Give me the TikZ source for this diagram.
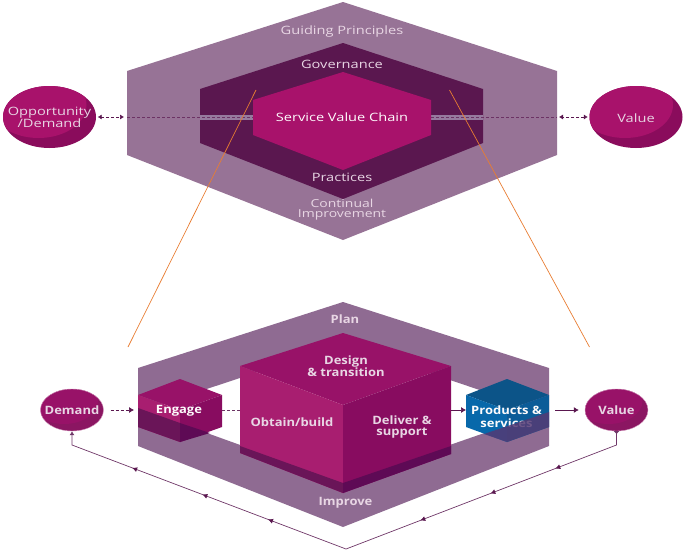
\documentclass[tikz,border=0pt]{standalone}
\usepackage{fontspec}
\setmainfont{Open Sans}
\newfontfamily\topfont[FakeStretch=1.27]{Open Sans}
\newfontfamily\lowfont[FakeStretch=1.13]{Open Sans}
\usepackage{xcolor}
\definecolor{White}{RGB}{255,255,255}
\definecolor{Ring}{RGB}{151,115,150}
\definecolor{RingLow}{RGB}{143,107,146}
\definecolor{Plum}{RGB}{90,23,79}
\definecolor{Magenta}{RGB}{168,18,107}
\definecolor{MagentaDark}{RGB}{138,12,92}
\definecolor{Strip}{RGB}{150,122,158}
\definecolor{TopFace}{RGB}{152,18,104}
\definecolor{LeftFace}{RGB}{168,30,112}
\definecolor{RightFace}{RGB}{136,12,96}
\definecolor{StripLeft}{RGB}{106,21,88}
\definecolor{StripRight}{RGB}{94,10,85}
\definecolor{BlueTop}{RGB}{12,84,136}
\definecolor{BlueLeft}{RGB}{8,104,170}
\definecolor{BlueRight}{RGB}{11,92,152}
\definecolor{Overlay}{RGB}{84,58,116}
\definecolor{Orange}{RGB}{232,125,50}
\definecolor{Pale}{RGB}{232,214,228}
\usepackage{tikz}
\usetikzlibrary{arrows.meta, shapes.geometric, decorations.markings}
\tikzset{
	lab/.style={align=center, color=Pale, inner sep=0pt},
	labtop/.style={lab, font=\topfont\fontsize{11.5}{12}\selectfont},
	lablow/.style={lab, font=\lowfont\fontsize{11.5}{10.5}\selectfont\bfseries},
	bigcircle/.style={ellipse, fill=MagentaDark, inner sep=0pt, minimum width=93pt, minimum height=62pt,
		path picture={\fill[Magenta] ([shift={(-11,-12)}]path picture bounding box.center) ellipse (48 and 33);}},
	smallcircle/.style={ellipse, fill=MagentaDark!90!Ring, draw=Pale!70!Magenta, line width=0.4pt, inner sep=0pt, minimum width=63pt, minimum height=42pt,
		path picture={\fill[TopFace] ([shift={(-8,-9)}]path picture bounding box.center) ellipse (34 and 23);}},
	dashlink/.style={draw=Plum, line width=0.5pt, densely dashed, {Latex[length=4pt,width=5pt]}-{Latex[length=4pt,width=5pt]}},
	flowlink/.style={draw=Plum, line width=0.7pt, densely dashed, -{Latex[length=5pt,width=6pt]}},
	backlink/.style={draw=Plum!65!Ring, line width=0.7pt, postaction={decorate}, decoration={markings,
		mark=at position 0.13 with {\arrow[Plum]{Latex[length=5pt,width=5pt]}},
		mark=at position 0.244 with {\arrow[Plum]{Latex[length=5pt,width=5pt]}},
		mark=at position 0.367 with {\arrow[Plum]{Latex[length=5pt,width=5pt]}},
		mark=at position 0.634 with {\arrow[Plum]{Latex[length=5pt,width=5pt]}},
		mark=at position 0.749 with {\arrow[Plum]{Latex[length=5pt,width=5pt]}},
		mark=at position 0.872 with {\arrow[Plum]{Latex[length=5pt,width=5pt]}}}},
	zoomline/.style={draw=Orange, line width=0.7pt}
}
\begin{document}
\begin{tikzpicture}[x=1pt, y=-1pt]
		\useasboundingbox (0,0) rectangle (685,554);
		
		% Upper hexagons
		\fill[Ring] (343,2) -- (557,71) -- (557,155) -- (343,240) -- (127,155) -- (127,71) -- cycle;
		\fill[Plum] (343,43) -- (483,89) -- (483,143) -- (343,199) -- (200,143) -- (200,89) -- cycle;
		\fill[Strip] (200,115) rectangle (483,120);
		\fill[Magenta] (343,72) -- (431,100) -- (431,135) -- (343,170) -- (253,135) -- (253,100) -- cycle;
		\draw[Plum!70!Ring, line width=0.5pt, densely dashed] (127,117) -- (253,117);
		\draw[Plum!70!Ring, line width=0.5pt, densely dashed] (431,117) -- (557,117);
		
		% Upper names
		\node[labtop] (guiding) at (342,32) {Guiding Principles};
		\node[labtop] (governance) at (342,64) {Governance};
		\node[labtop, color=White!90!Pale] (chain) at (342,117) {Service Value Chain};
		\node[labtop] (practices) at (342,177) {Practices};
		\node[labtop, font=\topfont\fontsize{11}{10}\selectfont] (continual) at (342,209.5) {Continual\\Improvement};
		
		% Upper circles
		\node[bigcircle] (opportunity) at (49.5,117) {};
		\node[bigcircle] (valuetop) at (636,117) {};
		\node[labtop] (opportunitytxt) at (49.5,117) {Opportunity\\/Demand};
		\node[labtop] (valuetoptxt) at (636,118) {Value};
		\coordinate (hexleft) at (127,117);
		\coordinate (hexright) at (557,117);
		\draw[dashlink, shorten <=1.5pt, shorten >=3pt] (opportunity) -- (hexleft);
		\draw[dashlink, shorten <=1.5pt, shorten >=2pt] (valuetop) -- (hexright);
		
		% Lower ring
		\fill[RingLow, even odd rule] (343,302) -- (549,368) -- (549,446) -- (343,527) -- (138,446) -- (138,368) -- cycle
			(143,410) -- (343,344) -- (545,412) -- (343,482) -- cycle;
		
		% Cube
		\fill[TopFace] (343,333) -- (451,366) -- (343,405) -- (240,366) -- cycle;
		\fill[LeftFace] (240,366) -- (343,405) -- (343,493) -- (240,453) -- cycle;
		\fill[RightFace] (451,366) -- (343,405) -- (343,493) -- (451,454) -- cycle;
		\fill[StripLeft] (240,446) -- (343,483) -- (343,493) -- (240,453) -- cycle;
		\fill[StripRight] (451,446) -- (343,483) -- (343,493) -- (451,454) -- cycle;
		
		% Engage block
		\fill[TopFace] (138,395) -- (180,379) -- (222,395) -- (180,410) -- cycle;
		\fill[LeftFace] (138,395) -- (180,410) -- (180,442) -- (138,427) -- cycle;
		\fill[RightFace] (222,395) -- (180,410) -- (180,442) -- (222,427) -- cycle;
		\fill[StripLeft] (138,408) -- (180,423) -- (180,442) -- (138,427) -- cycle;
		\fill[StripRight] (180,423) -- (210,433) -- (180,442) -- cycle;
		\node[lablow, color=White!90!Pale] (engage) at (179,410.5) {Engage};
		
		% Products block
		\fill[BlueTop] (466,395) -- (507,379) -- (549,395) -- (507,410) -- cycle;
		\fill[BlueLeft] (466,395) -- (507,410) -- (507,442) -- (466,427) -- cycle;
		\fill[BlueRight] (549,395) -- (507,410) -- (507,442) -- (549,427) -- cycle;
		\node[lablow, color=White!90!Pale, font=\lowfont\fontsize{11.5}{13}\selectfont\bfseries] (products) at (506.5,416.5) {Products \&\\services};
		\fill[Overlay, opacity=0.85] (484,434) -- (549,412) -- (549,427) -- (507,442) -- cycle;
		
		% Lower names
		\node[lablow] (plan) at (345,319) {Plan};
		\node[lablow] (improve) at (345.5,503) {Improve};
		\node[lablow] (design) at (346,366) {Design\\\& transition};
		\node[lablow] (obtain) at (292,422) {Obtain/build};
		\node[lablow] (deliver) at (402,427) {Deliver \&\\support};
		
		% Lower circles
		\node[smallcircle] (demand) at (72,410) {};
		\node[smallcircle] (valuelow) at (616.5,410) {};
		\node[lablow] (demandtxt) at (72,410) {Demand};
		\node[lablow] (valuelowtxt) at (616.5,410) {Value};
		
		% Flow
		\coordinate (engagein) at (138,410);
		\coordinate (engageout) at (222,410);
		\coordinate (cubein) at (240,410);
		\coordinate (cubeout) at (451,410);
		\coordinate (productsin) at (466,410);
		\coordinate (productsout) at (549,410);
		\draw[flowlink, shorten <=7pt, shorten >=4pt] (demand) -- (engagein);
		\draw[flowlink, -, draw=Plum!70!Ring] (engageout) -- (cubein);
		\draw[flowlink, solid] (cubeout) -- (productsin);
		\draw[flowlink, solid, shorten <=6pt, shorten >=6pt] (productsout) -- (valuelow);
		
		% Way back
		\coordinate (backright) at (616.5,445);
		\coordinate (backbottom) at (346,549);
		\coordinate (backleft) at (72,445);
		\draw[backlink, {Latex[length=3pt,width=6pt,reversed]}-{Latex[length=4pt,width=5pt]}] (valuelow) -- (backright) -- (backbottom) -- (backleft) -- (demand);
		
		% Zoom lines
		\coordinate (zoomleft) at (256,90);
		\coordinate (zoomright) at (449.5,90);
		\coordinate (cornerleft) at (128,347);
		\coordinate (cornerright) at (589.5,347);
		\draw[zoomline] (zoomleft) -- (cornerleft);
		\draw[zoomline] (zoomright) -- (cornerright);
		
	\end{tikzpicture}
\end{document}
